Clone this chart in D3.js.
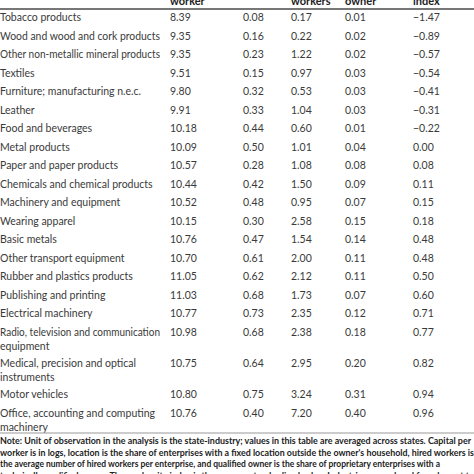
<!DOCTYPE html>
<html><head><meta charset="utf-8">
<script src="https://cdn.jsdelivr.net/npm/d3@7"></script>
<style>body{margin:0;background:#fff;overflow:hidden}text{font-family:Lato,"Open Sans",sans-serif}</style>
</head><body><svg id="c" width="474" height="474"></svg>
<script>
const headers = ["worker", "", "workers", "owner", "index"];
const industries = [["Tobacco products"],["Wood and wood and cork products"],["Other non-metallic mineral products"],["Textiles"],["Furniture; manufacturing n.e.c."],["Leather"],["Food and beverages"],["Metal products"],["Paper and paper products"],["Chemicals and chemical products"],["Machinery and equipment"],["Wearing apparel"],["Basic metals"],["Other transport equipment"],["Rubber and plastics products"],["Publishing and printing"],["Electrical machinery"],["Radio, television and communication","equipment"],["Medical, precision and optical","instruments"],["Motor vehicles"],["Office, accounting and computing","machinery"]];
const capital = ["8.39","9.35","9.35","9.51","9.80","9.91","10.18","10.09","10.57","10.44","10.52","10.15","10.76","10.70","11.05","11.03","10.77","10.98","10.75","10.80","10.76"];
const location_ = ["0.08","0.16","0.23","0.15","0.32","0.33","0.44","0.50","0.28","0.42","0.48","0.30","0.47","0.61","0.62","0.68","0.73","0.68","0.64","0.75","0.40"];
const hired = ["0.17","0.22","1.22","0.97","0.53","1.04","0.60","1.01","1.08","1.50","0.95","2.58","1.54","2.00","2.12","1.73","2.35","2.38","2.95","3.24","7.20"];
const qualified = ["0.01","0.02","0.02","0.03","0.03","0.03","0.01","0.04","0.08","0.09","0.07","0.15","0.14","0.11","0.11","0.07","0.12","0.18","0.20","0.31","0.40"];
const modernity = ["\u22121.47","\u22120.89","\u22120.57","\u22120.54","\u22120.41","\u22120.31","\u22120.22","0.00","0.08","0.11","0.15","0.18","0.48","0.48","0.50","0.60","0.71","0.77","0.82","0.94","0.96"];
const note = ["Note: Unit of observation in the analysis is the state-industry; values in this table are averaged across states. Capital per",
"worker is in logs, location is the share of enterprises with a fixed location outside the owner's household, hired workers is",
"the average number of hired workers per enterprise, and qualified owner is the share of proprietary enterprises with a",
"technically qualified owner. The modernity index is the average standardized value. Industries are ordered from lowest to"];

const svg = d3.select("#c");
const col = d3.scaleOrdinal().domain([0,1,2,3,4,5]).range([0,170,243,291,345,413]);
let units = [], u = 0;
industries.forEach(l => { units.push(u); u += 1 + (l.length - 1) * 0.7; });
const y = d3.scaleLinear().domain([0, 1]).range([21, 39.5]);
const fg = "#3a3a3a";
svg.selectAll("text.h").data(headers).join("text").attr("class","h")
  .attr("x",(d,i)=>col(i+1)).attr("y",5).attr("font-size",11).attr("font-weight",700).attr("fill","#222").text(d=>d);
svg.append("line").attr("x1",0).attr("x2",474).attr("y1",9).attr("y2",9).attr("stroke","#777").attr("stroke-width",2);
const cols = [capital, location_, hired, qualified, modernity];
industries.forEach((lines, r) => {
  const yy = y(units[r]);
  lines.forEach((t, k) => {
    const tx = svg.append("text").attr("x",col(0)).attr("y",yy + k*14).attr("font-size",10.5).attr("fill",fg).text(t);
    const w = tx.node().getComputedTextLength();
    if (w > 160) tx.attr("textLength",160).attr("lengthAdjust","spacingAndGlyphs");
  });
  cols.forEach((c, j) => svg.append("text").attr("x",col(j+1)).attr("y",yy).attr("font-size",10.5).attr("fill",fg).text(c[r]));
});
svg.append("line").attr("x1",0).attr("x2",474).attr("y1",433).attr("y2",433).attr("stroke","#999").attr("stroke-width",1);
const nlen = [471, 474, 440, 474];
note.forEach((t,i)=>svg.append("text").attr("x",0).attr("y",444+i*11.5).attr("font-size",9.6).attr("font-weight",700).attr("fill","#222")
  .attr("textLength",nlen[i]).attr("lengthAdjust","spacingAndGlyphs").text(t));
</script></body></html>
